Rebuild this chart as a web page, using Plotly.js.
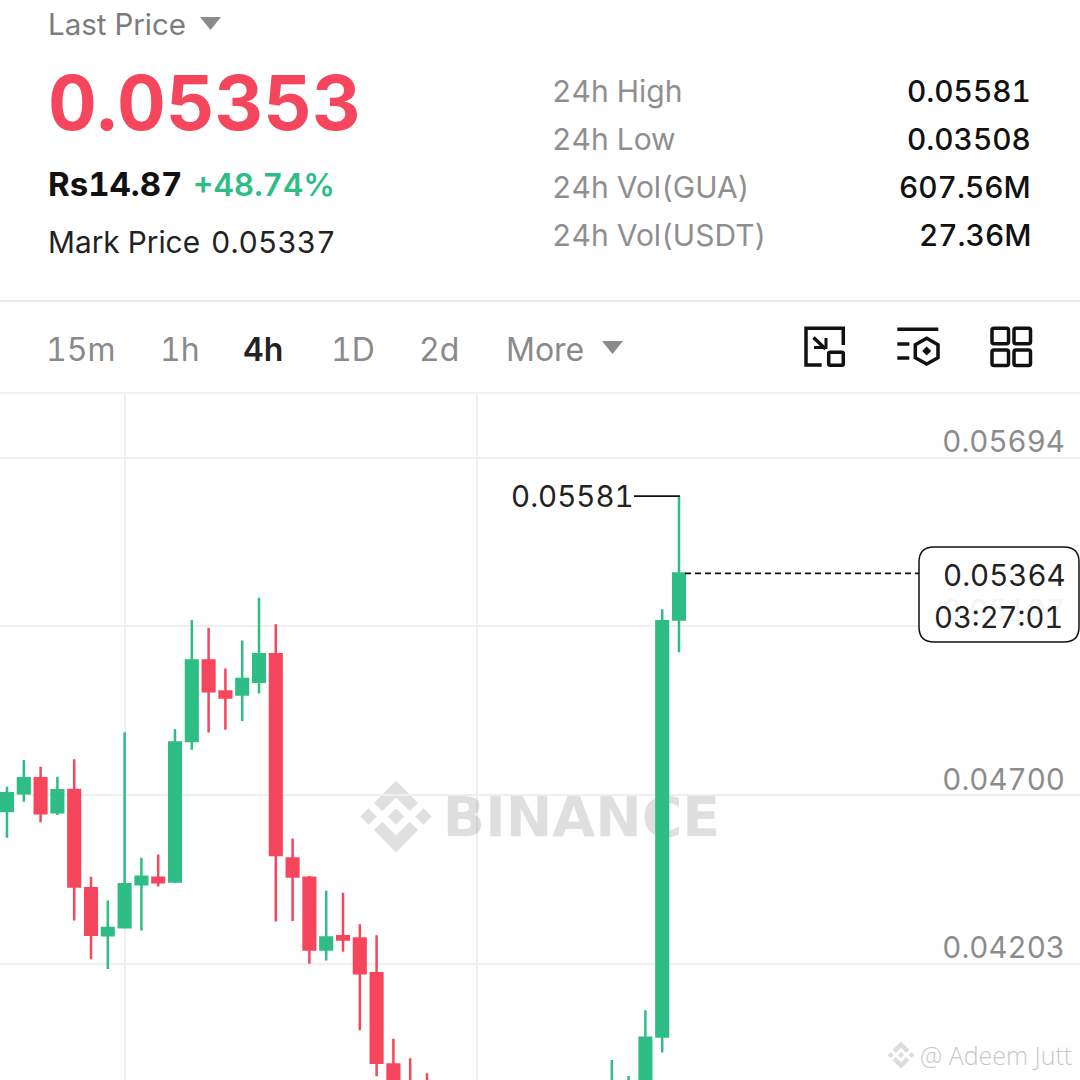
<!DOCTYPE html>
<html><head><meta charset="utf-8">
<script src="https://cdn.plot.ly/plotly-3.0.1.min.js"></script>
<style>html,body{margin:0;padding:0;background:#fff}#c{width:1080px;height:1080px}
svg text{font-feature-settings:"tnum" 1 !important;font-variant-numeric:tabular-nums !important}</style>
</head><body><div id="c"></div>
<script>
const candleIndex=[0,1,2,3,4,5,6,7,8,9,10,11,12,13,14,15,16,17,18,19,20,21,22,23,24,25,36,37,38,39,40];
const openPrice =[0.04653,0.04705,0.04749,0.04649,0.04715,0.04425,0.04287,0.04310,0.04437,0.04456,0.04445,0.04859,0.05096,0.05005,0.04996,0.05034,0.05115,0.04513,0.04456,0.04245,0.04284,0.04277,0.04175,0.03906,0.03840,0.03780,0.03800,0.03800,0.03830,0.03988,0.05217];
const highPrice =[0.04724,0.04803,0.04783,0.04754,0.04805,0.04459,0.04389,0.04885,0.04515,0.04525,0.04894,0.05216,0.05193,0.05073,0.05155,0.05281,0.05203,0.04572,0.04461,0.04418,0.04412,0.04319,0.04287,0.03982,0.03924,0.03880,0.03919,0.03872,0.04066,0.05247,0.05581];
const lowPrice  =[0.04574,0.04680,0.04620,0.04641,0.04330,0.04216,0.04187,0.04308,0.04301,0.04430,0.04440,0.04833,0.04884,0.04892,0.04918,0.04999,0.04327,0.04329,0.04203,0.04212,0.04238,0.04007,0.03871,0.03800,0.03740,0.03700,0.03760,0.03760,0.03800,0.03941,0.05121];
const closePrice=[0.04705,0.04749,0.04646,0.04714,0.04430,0.04288,0.04308,0.04437,0.04459,0.04443,0.04855,0.05096,0.05006,0.04987,0.05042,0.05115,0.04523,0.04460,0.04245,0.04280,0.04274,0.04175,0.03911,0.03840,0.03780,0.03720,0.03830,0.03840,0.03985,0.05212,0.05353];
const yTickValues=[0.05694,0.05197,0.04700,0.04203];
const yTickLabels=["0.05694","0.05197","0.04700","0.04203"];
const statLabels=["24h High","24h Low","24h Vol(GUA)","24h Vol(USDT)"];
const statValues=["0.05581","0.03508","607.56M","27.36M"];
const tabLabels=["15m","1h","4h","1D","2d","More"];

const GREEN="#2EBD85",RED="#F6465D",FONT="Inter, sans-serif";
const px=x=>x/1080, py=y=>1-y/1080;
const yRange=[0.0386016,0.0588461], xRange=[-0.41667,63.869];

const notes=[], shapes=[];
function T(text,x,y,size,color,anchor,weight,family){
  notes.push({text:text,xref:"paper",yref:"paper",x:px(x),y:py(y),xanchor:anchor||"left",yanchor:"middle",showarrow:false,
    font:{family:family||FONT,size:size,color:color,weight:weight||400},borderpad:0,borderwidth:0});
}
function P(cmds,opt){
  const d=cmds.map(c=>{ if(c[0]==="Z")return "Z"; let s=c[0]; for(let i=1;i<c.length;i+=2){s+=(i>1?" ":"")+px(c[i]).toFixed(5)+","+py(c[i+1]).toFixed(5);} return s;}).join(" ");
  shapes.push(Object.assign({type:"path",xref:"paper",yref:"paper",path:d,layer:"above"},opt));
}
function line(x0,y0,x1,y1,color,w,layer){shapes.push({type:"line",xref:"paper",yref:"paper",x0:px(x0),y0:py(y0),x1:px(x1),y1:py(y1),line:{color:color,width:w},layer:layer||"above"});}
function roundRect(x0,y0,x1,y1,r,opt){
  P([["M",x0+r,y0],["L",x1-r,y0],["Q",x1,y0,x1,y0+r],["L",x1,y1-r],["Q",x1,y1,x1-r,y1],["L",x0+r,y1],["Q",x0,y1,x0,y1-r],["L",x0,y0+r],["Q",x0,y0,x0+r,y0],["Z"]],opt);
}
function logo(cx,cy,r,fill,layer){
  const o={fillcolor:fill,line:{width:0},layer:layer};
  const poly=pts=>P(pts.map((p,i)=>[i?"L":"M",cx+p[0]*r,cy-p[1]*r]).concat([["Z"]]),o);
  [[0,0],[-0.77,0],[0.77,0]].forEach(c=>poly([[c[0],c[1]+.23],[c[0]+.23,c[1]],[c[0],c[1]-.23],[c[0]-.23,c[1]]]));
  [1,-1].forEach(s=>poly([[0,s],[.62,.38*s],[.385,.145*s],[0,.53*s],[-.385,.145*s],[-.62,.38*s]]));
}

// Header
T("Last Price",48,24,29.5,"#7c7c7c");
P([["M",200,17],["L",221,17],["L",210.5,30],["Z"]],{fillcolor:"#8a8a8a",line:{width:0}});
T("0.05353",48,102,75.5,RED,"left",700);
T("Rs14.87",48,184,33,"#111111","left",700);
T("+48.74%",193,184,31.5,GREEN,"left",600);
T("Mark Price",48,242.5,29.8,"#222222");
T("0.05337",211,242.5,30,"#222222");
const statY=[91,139,187,235];
statLabels.forEach((s,i)=>{T(s,551.5,statY[i],30,"#8f8f8f");T(statValues[i],1031,statY[i],29.8,"#111111","right",500);});
line(0,301,1080,301,"#ececec",2);
line(0,393,1080,393,"#f2f2f2",2);
// Tabs
const tabX=[46,160,243,331,419,506];
tabLabels.forEach((t,i)=>T(t,tabX[i],349,t==="4h"?32:32,t==="4h"?"#222222":"#8a8a8a","left",t==="4h"?600:400));
P([["M",602,341],["L",623,341],["L",612.5,354],["Z"]],{fillcolor:"#8a8a8a",line:{width:0}});
// Icons
const ik={fillcolor:"rgba(0,0,0,0)",line:{color:"#111111",width:3.5}};
P([["M",843.3,345],["L",843.3,328.3],["L",806,328.3],["L",806,365],["L",821.7,365]],ik);
roundRect(828.7,352.3,843.3,365.3,1.5,ik);
P([["M",813.5,337.5],["L",825.5,349]],ik);
P([["M",814,347.5],["L",826,347.5],["L",826,338]],{fillcolor:"rgba(0,0,0,0)",line:{color:"#111111",width:3}});
line(897.3,329.3,938.3,329.3,"#111111",3.5);
line(897.3,344,909.3,344,"#111111",3.5);
line(897.3,358,909.3,358,"#111111",3.5);
P([["M",926.7,338.3],["L",938,344.7],["L",938,357.7],["L",926.7,364],["L",915.3,357.7],["L",915.3,344.7],["Z"]],ik);
P([["M",926.7,346.5],["L",931.2,351],["L",926.7,355.5],["L",922.2,351],["Z"]],{fillcolor:"#111111",line:{width:0}});
[[992,328.3],[1014,328.3],[992,350],[1014,350]].forEach(c=>roundRect(c[0],c[1],c[0]+16.5,c[1]+15.5,2,ik));

// Watermark logo sits under the candles
logo(396,816.5,35.7,"#e0e0e0","below");

// Last price callout
const lastClose=closePrice[closePrice.length-1], topHigh=Math.max(...highPrice);
shapes.push({type:"line",xref:"paper",yref:"y",x0:px(685),x1:px(919),y0:lastClose,y1:lastClose,line:{color:"#111111",width:1.7,dash:"6px,4px"},layer:"above"});
shapes.push({type:"line",xref:"paper",yref:"y",x0:px(634),x1:px(680),y0:topHigh,y1:topHigh,line:{color:"#111111",width:1.7},layer:"above"});
roundRect(919,547,1079,642,15,{fillcolor:"rgba(255,255,255,0.9)",line:{color:"#111111",width:1.5}});
T("0.05364",1066,574.5,29.5,"#222222","right");
T("03:27:01",1063,617,29.2,"#222222","right");
notes.push({text:topHigh.toFixed(5),xref:"paper",yref:"y",x:px(635),y:topHigh,xanchor:"right",yanchor:"middle",showarrow:false,font:{family:FONT,size:29.5,color:"#222222"},borderpad:0});

// Bottom-right credit
logo(901,1055,13.5,"#dcdcdc","above");
T("@ Adeem Jutt",920,1055,25,"#c8c8c8","left",300,"Open Sans, sans-serif");

const traces=[
 {type:"scatter",mode:"text",x:[34.2],y:[0.04620],text:["BINANCE"],textposition:"middle center",cliponaxis:false,
  textfont:{family:"DejaVu Sans, sans-serif",size:55.5,color:"rgba(0,0,0,0.125)",weight:700},hoverinfo:"skip",showlegend:false,xaxis:"x",yaxis:"y"},
 {type:"candlestick",x:candleIndex,open:openPrice,high:highPrice,low:lowPrice,close:closePrice,xaxis:"x",yaxis:"y2",
  increasing:{line:{color:GREEN,width:2.5},fillcolor:GREEN},decreasing:{line:{color:RED,width:2.5},fillcolor:RED},whiskerwidth:0,showlegend:false}
];
const layout={width:1080,height:1080,margin:{l:0,r:0,t:0,b:0},paper_bgcolor:"#fff",plot_bgcolor:"#fff",showlegend:false,boxgap:0.31,boxgroupgap:0,
 xaxis:{range:xRange,domain:[0,1],tickvals:[7,28],showticklabels:false,showgrid:true,gridcolor:"#efefef",gridwidth:2,zeroline:false,ticks:"",rangeslider:{visible:false},fixedrange:true,showline:false},
 yaxis:{range:yRange,domain:[0,687/1080],side:"right",tickvals:yTickValues,ticktext:yTickLabels,ticklabelposition:"inside top",ticks:"",ticklen:0,ticklabelstandoff:12,ticklabelshift:5,
   tickfont:{family:FONT,size:29.5,color:"#8c8c8c"},showgrid:true,gridcolor:"#efefef",gridwidth:2,zeroline:false,fixedrange:true,showline:false},
 yaxis2:{range:yRange,overlaying:"y",side:"right",showticklabels:false,showgrid:false,zeroline:false,ticks:"",fixedrange:true},
 annotations:notes,shapes:shapes};
Plotly.newPlot("c",traces,layout,{displayModeBar:false,staticPlot:true});
</script></body></html>
